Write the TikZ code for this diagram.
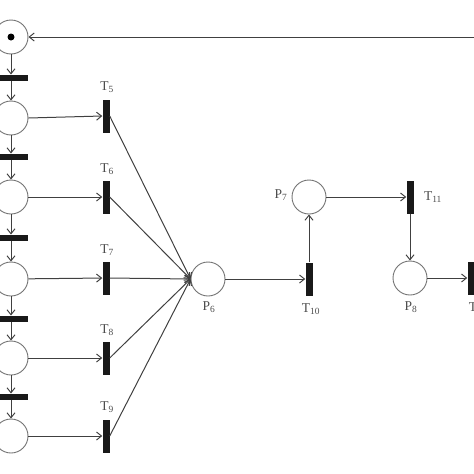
\documentclass[tikz,border=0pt]{standalone}
\usepackage{fontspec}
\setmainfont{Liberation Serif}
\usetikzlibrary{arrows.meta}
\tikzset{
  place/.style={circle, draw=black!55, line width=0.9pt, minimum size=34pt, inner sep=0pt},
  vbar/.style={rectangle, fill=black!90, draw=none, minimum width=7pt, minimum height=33pt, inner sep=0pt},
  hbar/.style={rectangle, fill=black!90, draw=none, minimum width=33pt, minimum height=6.5pt, inner sep=0pt},
  arc/.style={draw=black!75, line width=1pt, -{Straight Barb[length=5pt,width=8pt]}},
  lbl/.style={font=\fontsize{13.5}{15}\selectfont, text=black!70, inner sep=0pt},
  tok/.style={circle, fill=black, minimum size=7pt, inner sep=0pt}
}
\begin{document}
\begin{tikzpicture}[x=1pt,y=-1pt]
\useasboundingbox (0,0) rectangle (474,474);
\clip (0,0) rectangle (474,474);
% left chain
\node[place] (p1) at (11,37) {};
\node[tok] at (11,37) {};
\node[hbar] (b1) at (11,78) {};
\node[place] (p2) at (11,118) {};
\node[hbar] (b2) at (11,157) {};
\node[place] (p3) at (11,197) {};
\node[hbar] (b3) at (11,238) {};
\node[place] (p4) at (11,279) {};
\node[hbar] (b4) at (11,319) {};
\node[place] (p5) at (11,358) {};
\node[hbar] (b5) at (11,397) {};
\node[place] (p6l) at (11,436) {};
% transitions T5..T9
\node[vbar] (t5) at (106,116) {};
\node[vbar] (t6) at (106,197) {};
\node[vbar] (t7) at (106,278) {};
\node[vbar] (t8) at (106,358) {};
\node[vbar] (t9) at (106,436) {};
\node[lbl] at (107,87) {T\textsubscript{5}};
\node[lbl] at (107,169) {T\textsubscript{6}};
\node[lbl] at (107,250) {T\textsubscript{7}};
\node[lbl] at (107,330) {T\textsubscript{8}};
\node[lbl] at (107,407) {T\textsubscript{9}};
% P6
\node[place] (P6) at (208,279) {};
\node[lbl] at (209,307) {P\textsubscript{6}};
% T10, P7, T11, P8, T12
\node[vbar] (t10) at (309,279) {};
\node[lbl] at (311,309) {T\textsubscript{10}};
\node[place] (P7) at (309,197) {};
\node[lbl] at (281,195) {P\textsubscript{7}};
\node[vbar] (t11) at (410,197) {};
\node[lbl] at (433,197) {T\textsubscript{11}};
\node[place] (P8) at (410,278) {};
\node[lbl] at (411,307) {P\textsubscript{8}};
\node[vbar] (t12) at (471,278) {};
\node[lbl] at (478,308) {T\textsubscript{12}};
\coordinate (back) at (480,37);
% arcs
\draw[arc] (p1) -- (b1);
\draw[arc] (b1) -- (p2);
\draw[arc] (p2) -- (b2);
\draw[arc] (b2) -- (p3);
\draw[arc] (p3) -- (b3);
\draw[arc] (b3) -- (p4);
\draw[arc] (p4) -- (b4);
\draw[arc] (b4) -- (p5);
\draw[arc] (p5) -- (b5);
\draw[arc] (b5) -- (p6l);
\draw[arc] (p2.east) -- (t5.west);
\draw[arc] (p3) -- (t6);
\draw[arc] (p4) -- (t7);
\draw[arc] (p5) -- (t8);
\draw[arc] (p6l) -- (t9);
\draw[arc] (t5.east) -- (P6.west);
\draw[arc] (t6.east) -- (P6.west);
\draw[arc] (t7.east) -- (P6.west);
\draw[arc] (t8.east) -- (P6.west);
\draw[arc] (t9.east) -- (P6.west);
\draw[arc] (P6) -- (t10);
\draw[arc] (t10) -- (P7);
\draw[arc] (P7) -- (t11);
\draw[arc] (t11) -- (P8);
\draw[arc] (P8) -- (t12);
\draw[arc] (back) -- (p1);
\end{tikzpicture}
\end{document}
